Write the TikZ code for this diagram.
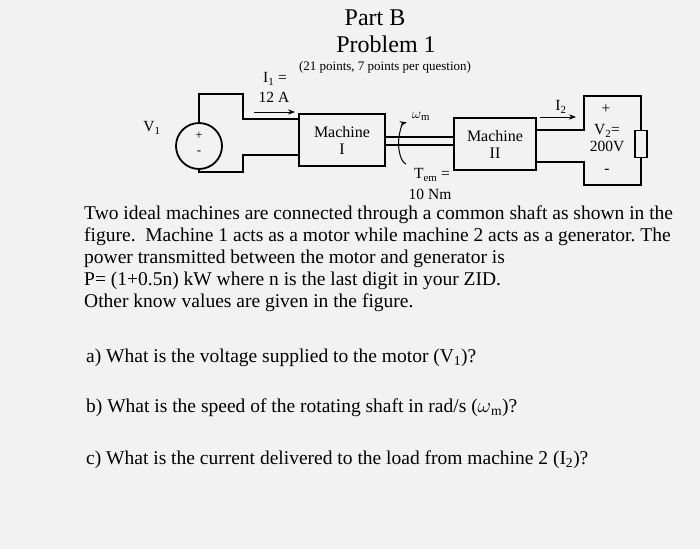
\documentclass[tikz,border=0pt]{standalone}
\usepackage{fontspec}
\setmainfont{Liberation Serif}
\usetikzlibrary{arrows.meta}
\begin{document}
\begin{tikzpicture}[x=1pt,y=-1pt,
  wire/.style={line width=1.8pt},
  lbl/.style={font=\fontsize{15.5}{15.5}\selectfont,inner sep=0pt},
  para/.style={font=\fontsize{19.5}{21}\selectfont,anchor=west,inner sep=0pt},
  mbox/.style={draw,line width=1.8pt,minimum width=#1,minimum height=52pt,align=center,font=\fontsize{16}{17}\selectfont}]
\fill[gray!10] (0,0) rectangle (700,549);
\useasboundingbox (0,0) rectangle (700,549);
% titles
\node[font=\fontsize{24}{24}\selectfont] (t1) at (375,18) {Part B};
\node[font=\fontsize{24}{24}\selectfont] (t2) at (386,44) {Problem 1};
\node[font=\fontsize{13}{13}\selectfont] (t3) at (385,67) {(21 points, 7 points per question)};
% source
\node[draw,circle,line width=1.8pt,minimum size=46pt,inner sep=0pt] (src) at (199,146) {};
\node[font=\fontsize{13}{13}\selectfont,inner sep=0pt] (sp) at (199,136) {+};
\node[font=\fontsize{13}{13}\selectfont,inner sep=0pt] (sm) at (199,153) {-};
\node[lbl] (v1) at (152,128) {V\textsubscript{1}};
\node[mbox=86pt] (m1) at (342,140) {Machine\\I};
\node[mbox=82pt] (m2) at (495,144) {Machine\\II};
\node[draw,line width=1.8pt,minimum width=12pt,minimum height=27pt,inner sep=0pt] (R) at (641,144) {};
\draw[wire] (src.north) |- (243,94) |- (m1.west|-0,119);
\draw[wire] (src.south) |- (243,172) |- (m1.west|-0,155);
\draw[wire] (m1.east|-0,137) -- (m2.west|-0,137);
\draw[wire] (m1.east|-0,145) -- (m2.west|-0,145);
\draw[wire] (m2.east|-0,130) -| (584,96) -| (R.north);
\draw[wire] (m2.east|-0,162) -| (584,185) -| (R.south);
% labels
\node[lbl] (i1) at (275,79) {I\textsubscript{1} =};
\node[lbl] (i1v) at (274,97) {12 A};
\coordinate (a1s) at (254,112); \coordinate (a1e) at (295,112);
\draw[-{Stealth[length=7pt]},line width=1pt] (a1s) -- (a1e);
\node[lbl] (wm) at (421,116) {$\omega$\textsubscript{m}};
\draw[-{Stealth[length=7pt]},line width=1pt] (406,164) arc[start angle=-100,end angle=-265,x radius=9pt,y radius=21pt];
\node[lbl] (tem) at (432,175) {T\textsubscript{em} =};
\node[lbl] (tv) at (430,194) {10 Nm};
\node[lbl] (i2) at (561,107) {I\textsubscript{2}};
\coordinate (a2s) at (540,117); \coordinate (a2e) at (576,117);
\draw[-{Stealth[length=7pt]},line width=1pt] (a2s) -- (a2e);
\node[lbl] (vp) at (606,109) {+};
\node[lbl] (v2) at (607,131) {V\textsubscript{2}=};
\node[lbl] (v2v) at (607,146) {200V};
\node[lbl] (vm) at (607,171) {-};
% text
\node[para] (p1) at (84,215) {Two ideal machines are connected through a common shaft as shown in the};
\node[para] (p2) at (84,237) {figure.\ \ Machine 1 acts as a motor while machine 2 acts as a generator.\ The};
\node[para] (p3) at (84,259) {power transmitted between the motor and generator is};
\node[para] (p4) at (84,281) {P= (1+0.5n) kW where n is the last digit in your ZID.};
\node[para] (p5) at (84,303) {Other know values are given in the figure.};
\node[para] (qa) at (86,358) {a) What is the voltage supplied to the motor (V\textsubscript{1})?};
\node[para] (qb) at (86,408) {b) What is the speed of the rotating shaft in rad/s ($\omega$\textsubscript{m})?};
\node[para] (qc) at (86,460) {c) What is the current delivered to the load from machine 2 (I\textsubscript{2})?};
\end{tikzpicture}
\end{document}
